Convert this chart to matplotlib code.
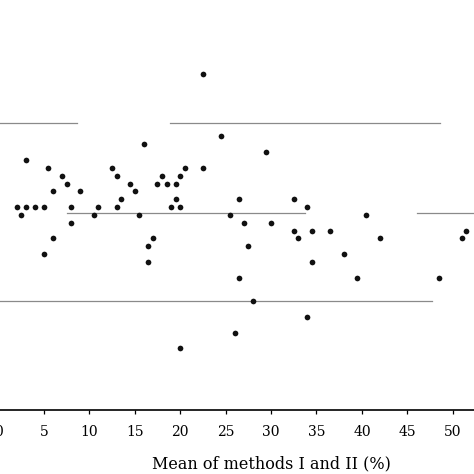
import numpy as np
import matplotlib
matplotlib.use("Agg")
import matplotlib.pyplot as plt

# mean of the two methods (%) and their difference (%)
mean_vals = [2.0, 2.5, 3.0, 3.0, 4.0, 5.0, 5.0, 5.5, 6.0, 6.0,
             7.0, 7.5, 8.0, 8.0, 9.0, 10.5, 11.0, 12.5, 13.0, 13.0,
             13.5, 14.5, 15.0, 15.5, 16.0, 16.5, 16.5, 17.0, 17.5, 18.0,
             18.5, 19.0, 19.5, 19.5, 20.0, 20.0, 20.0, 20.5, 22.5, 22.5,
             24.5, 25.5, 26.0, 26.5, 26.5, 27.0, 27.5, 28.0, 29.5, 30.0,
             32.5, 32.5, 33.0, 34.0, 34.0, 34.5, 34.5, 36.5, 38.0, 39.5,
             40.5, 42.0, 48.5, 51.0, 51.5]
diff_vals = [0, -1, 0, 6, 0, 0, -6, 5, 2, -4,
             4, 3, 0, -2, 2, -1, 0, 5, 4, 0,
             1, 3, 2, -1, 8, -5, -7, -4, 3, 4,
             3, 0, 3, 1, 0, 4, -18, 5, 5, 17,
             9, -1, -16, 1, -9, -2, -5, -12, 7, -2,
             1, -3, -4, 0, -14, -3, -7, -3, -6, -9,
             -1, -4, -9, -4, -3]

# mean difference and limits of agreement
bias = -0.72
upper_loa = 10.7
lower_loa = -12.0

xticks = list(range(0, 55, 5))

fig = plt.figure(figsize=(4.74, 4.74), dpi=100)
ax = fig.add_axes([-50 / 474, 64 / 474, 524 / 474, 410 / 474])

line_col = '#8a8a8a'
# the printed lines are broken in places
ax.plot([0, 8.7], [upper_loa, upper_loa], color=line_col, lw=0.9)
ax.plot([18.9, 48.6], [upper_loa, upper_loa], color=line_col, lw=0.9)
ax.plot([7.5, 33.7], [bias, bias], color=line_col, lw=0.9)
ax.plot([46.1, 53], [bias, bias], color=line_col, lw=0.9)
ax.plot([0, 47.7], [lower_loa, lower_loa], color=line_col, lw=0.9)

ax.plot(mean_vals, diff_vals, 'o', color='#111111', markersize=4.1,
        markeredgewidth=0)

ax.set_xlim(-5.33, 52.34)
ax.set_ylim(-25.85, 26.38)
ax.set_xticks(xticks)
ax.set_xticklabels([str(t) for t in xticks], family='DejaVu Serif', fontsize=10)
ax.tick_params(axis='x', direction='out', length=3, width=0.9, pad=8)
ax.set_yticks([])
for s in ['left', 'right', 'top']:
    ax.spines[s].set_visible(False)
ax.spines['bottom'].set_linewidth(1.2)

ax.set_xlabel('Mean of methods I and II (%)', family='DejaVu Serif', fontsize=11.5)
ax.xaxis.set_label_coords(321 / 524, -45 / 410)

fig.savefig('out.png', dpi=100)
